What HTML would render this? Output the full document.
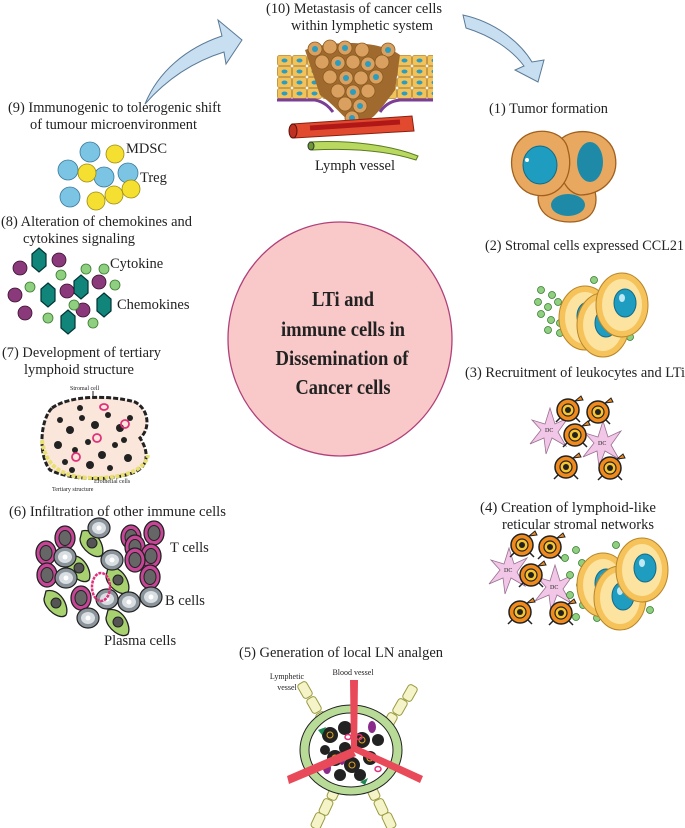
<!DOCTYPE html>
<html><head><meta charset="utf-8"><style>
html,body{margin:0;padding:0;background:#fff}
svg{display:block}
text{font-family:"Liberation Serif",serif;fill:#222}
</style></head><body>
<svg width="685" height="828" viewBox="0 0 685 828" xmlns="http://www.w3.org/2000/svg">
<defs>
<pattern id="grid" x="277" y="55" width="15" height="11" patternUnits="userSpaceOnUse">
<rect x="0.5" y="0.5" width="14" height="10" rx="2" fill="#f2c35a" stroke="#b8862a" stroke-width="0.8"/>
<ellipse cx="7.5" cy="5.5" rx="3" ry="2" fill="#2a9dc0"/>
</pattern>
<g id="orc"><circle r="11" fill="#f08a1c" stroke="#222" stroke-width="1.5"/><circle r="6" fill="#f7c530" stroke="#222" stroke-width="1.2"/><circle r="3" fill="#222"/><path d="M7 -9 l6 -5 l2 4 z" fill="#f08a1c" stroke="#222"/><path d="M-8 8 l-4 4 M8 8 l4 4" stroke="#222" stroke-width="1.5"/></g>
<g id="dc"><path d="M0 -22 L5 -6 L18 -12 L8 2 L16 16 L2 8 L-4 24 L-6 8 L-20 14 L-9 0 L-18 -10 L-5 -6 Z" fill="#f2c6e6" stroke="#9a7090" stroke-width="0.8"/><text x="-5" y="2" font-size="6" fill="#806080">DC</text></g>
<g id="strc"><ellipse rx="26" ry="32" fill="#f5c35a" stroke="#b8862a"/><ellipse rx="20" ry="26" fill="#fde3a0"/><ellipse cx="3" cy="-2" rx="11" ry="14" fill="#1e9dc0" stroke="#136a88"/><ellipse cx="0" cy="-7" rx="3" ry="4" fill="#bfe8f4"/></g>
<g id="tc"><ellipse rx="10" ry="12" fill="#c64596" stroke="#222" stroke-width="1.3"/><ellipse rx="6" ry="7.5" fill="#666" stroke="#222"/></g>
<g id="bc"><ellipse rx="11" ry="10" fill="#8a949a" stroke="#222" stroke-width="1.2"/><ellipse rx="7" ry="6" fill="#d8dee2"/><circle r="2.5" fill="#fff"/></g>
<g id="pc"><path d="M-10 -12 C4 -16 14 4 10 12 C4 18 -12 6 -12 -4 Z" fill="#a8d270" stroke="#222" stroke-width="1.3"/><circle cx="0" cy="0" r="5" fill="#555" stroke="#222"/></g>
<g id="hex"><polygon points="0,-12 7,-6 7,6 0,12 -7,6 -7,-6" fill="#11857a" stroke="#033" stroke-width="1.2"/></g>
<g id="chain"><rect x="-5" y="-8" width="10" height="16" rx="3" fill="#f4f4c8" stroke="#9a9a40" stroke-width="1"/></g>
</defs>

<!-- arrows -->
<path d="M145 104 C158 72 186 48 222 36 L218 20 L242 40 L226 64 L224 52 C192 62 166 80 145 104 Z" fill="#c8dff2" stroke="#5a7a96" stroke-width="1"/>
<path d="M463 15 C495 22 520 42 532 62 L544 60 L538 82 L515 70 L524 66 C512 50 492 36 466 28 Z" fill="#c8dff2" stroke="#5a7a96" stroke-width="1"/>

<!-- 10 -->
<text x="354" y="13" font-size="14.5" text-anchor="middle" textLength="176" lengthAdjust="spacingAndGlyphs">(10) Metastasis of cancer cells</text>
<text x="362" y="30" font-size="14.5" text-anchor="middle" textLength="142" lengthAdjust="spacingAndGlyphs">within lymphetic system</text>
<rect x="277" y="55" width="156" height="44" fill="url(#grid)"/>
<path d="M305 50 C330 40 380 40 400 55 L395 90 C380 110 370 125 355 125 C345 120 335 105 320 95 Z" fill="#a06a2e"/>
<g fill="#d9a060" stroke="#8a5a20" stroke-width="0.8">
<circle cx="315" cy="49" r="7"/><circle cx="330" cy="47" r="7"/><circle cx="345" cy="48" r="7"/><circle cx="362" cy="50" r="7"/><circle cx="388" cy="50" r="7"/><circle cx="322" cy="62" r="7"/><circle cx="338" cy="63" r="7"/><circle cx="353" cy="62" r="7"/><circle cx="368" cy="64" r="7"/><circle cx="382" cy="62" r="7"/><circle cx="330" cy="77" r="7"/><circle cx="346" cy="78" r="7"/><circle cx="361" cy="78" r="7"/><circle cx="376" cy="77" r="7"/><circle cx="338" cy="91" r="7"/><circle cx="353" cy="92" r="7"/><circle cx="368" cy="91" r="7"/><circle cx="345" cy="104" r="7"/><circle cx="360" cy="106" r="7"/><circle cx="352" cy="118" r="7"/></g>
<g fill="#2a9dc0"><circle cx="315" cy="49" r="3"/><circle cx="345" cy="48" r="3"/><circle cx="388" cy="50" r="3"/><circle cx="338" cy="63" r="3"/><circle cx="368" cy="64" r="3"/><circle cx="346" cy="78" r="3"/><circle cx="376" cy="77" r="3"/><circle cx="353" cy="92" r="3"/><circle cx="360" cy="106" r="3"/><circle cx="352" cy="118" r="3"/></g>
<path d="M277 100 L315 100 C325 102 330 108 333 112 M380 112 C384 106 390 101 400 100 L433 100" stroke="#7a3e96" stroke-width="3" fill="none"/>
<path d="M292 124 L412 116 L414 131 L294 138 Z" fill="#e24a30" stroke="#8a2010"/>
<ellipse cx="293" cy="131" rx="4" ry="7" fill="#c03020" stroke="#5a1008"/>
<path d="M310 128 L400 122" stroke="#b01818" stroke-width="5"/>
<path d="M310 142 C350 140 390 145 418 156 L416 160 C385 150 350 148 312 150 Z" fill="#b8d860" stroke="#5a7a20"/>
<ellipse cx="311" cy="146" rx="3" ry="4" fill="#6a9a30" stroke="#333"/>
<text x="355" y="170" font-size="14.5" text-anchor="middle" textLength="80" lengthAdjust="spacingAndGlyphs">Lymph vessel</text>

<!-- 9 -->
<text x="8" y="112" font-size="14.5" textLength="213" lengthAdjust="spacingAndGlyphs">(9) Immunogenic to tolerogenic shift</text>
<text x="30" y="129" font-size="14.5" textLength="167" lengthAdjust="spacingAndGlyphs">of tumour microenvironment</text>
<g stroke="#3a7a9a" stroke-width="0.8">
<circle cx="90" cy="152" r="10" fill="#7cc4e4"/><circle cx="68" cy="170" r="10" fill="#7cc4e4"/><circle cx="104" cy="177" r="10" fill="#7cc4e4"/><circle cx="128" cy="173" r="10" fill="#7cc4e4"/><circle cx="70" cy="197" r="10" fill="#7cc4e4"/>
</g>
<g stroke="#9a8a10" stroke-width="0.8">
<circle cx="115" cy="154" r="9" fill="#f5e032"/><circle cx="87" cy="173" r="9" fill="#f5e032"/><circle cx="114" cy="195" r="9" fill="#f5e032"/><circle cx="131" cy="189" r="9" fill="#f5e032"/><circle cx="96" cy="201" r="9" fill="#f5e032"/>
</g>
<text x="126" y="153" font-size="14.5">MDSC</text>
<text x="140" y="182" font-size="14.5">Treg</text>

<!-- 8 -->
<text x="1" y="226" font-size="14.5" textLength="191" lengthAdjust="spacingAndGlyphs">(8) Alteration of chemokines and</text>
<text x="23" y="243" font-size="14.5" textLength="112" lengthAdjust="spacingAndGlyphs">cytokines signaling</text>
<use href="#hex" x="39" y="260"/><use href="#hex" x="81" y="287"/><use href="#hex" x="48" y="295"/><use href="#hex" x="104" y="305"/><use href="#hex" x="68" y="322"/>
<g fill="#8a3a7a" stroke="#3a1030" stroke-width="0.8">
<circle cx="20" cy="268" r="7"/><circle cx="59" cy="260" r="7"/><circle cx="15" cy="295" r="7"/><circle cx="67" cy="291" r="7"/><circle cx="99" cy="282" r="7"/><circle cx="83" cy="310" r="7"/><circle cx="25" cy="313" r="7"/></g>
<g fill="#8ed080" stroke="#3a7a30" stroke-width="0.8">
<circle cx="86" cy="269" r="5"/><circle cx="104" cy="269" r="5"/><circle cx="61" cy="275" r="5"/><circle cx="30" cy="287" r="5"/><circle cx="115" cy="285" r="5"/><circle cx="74" cy="305" r="5"/><circle cx="48" cy="318" r="5"/><circle cx="93" cy="323" r="5"/></g>
<text x="110" y="268" font-size="14.5">Cytokine</text>
<text x="117" y="309" font-size="14.5">Chemokines</text>

<!-- 7 -->
<text x="2" y="357" font-size="14.5" textLength="159" lengthAdjust="spacingAndGlyphs">(7) Development of tertiary</text>
<text x="24" y="374" font-size="14.5" textLength="110" lengthAdjust="spacingAndGlyphs">lymphoid structure</text>
<text x="70" y="390" font-size="6">Stromal cell</text>
<line x1="93" y1="391" x2="93" y2="402" stroke="#222"/>
<path d="M52 408 C70 395 110 395 135 402 C150 410 150 430 140 438 C148 450 150 465 135 472 C110 482 70 480 50 470 C38 455 40 420 52 408 Z" fill="#fbe6dc" stroke="#222" stroke-width="3" stroke-dasharray="5 2"/>
<path d="M42 440 C45 465 60 478 95 478 C125 478 145 470 148 455" fill="none" stroke="#e8e070" stroke-width="4" stroke-dasharray="4 1.5"/>
<g fill="#222">
<circle cx="60" cy="420" r="3"/><circle cx="70" cy="430" r="4"/><circle cx="82" cy="418" r="3"/><circle cx="95" cy="425" r="4"/><circle cx="108" cy="415" r="3"/><circle cx="120" cy="428" r="4"/><circle cx="130" cy="418" r="3"/><circle cx="58" cy="445" r="4"/><circle cx="75" cy="450" r="3"/><circle cx="88" cy="442" r="3"/><circle cx="102" cy="455" r="4"/><circle cx="115" cy="445" r="3"/><circle cx="128" cy="458" r="4"/><circle cx="65" cy="462" r="3"/><circle cx="90" cy="465" r="4"/><circle cx="110" cy="468" r="3"/><circle cx="124" cy="440" r="3"/><circle cx="80" cy="408" r="3"/><circle cx="72" cy="470" r="3"/></g>
<g fill="none" stroke="#e0307a" stroke-width="1.8"><ellipse cx="104" cy="407" rx="4" ry="3"/><ellipse cx="125" cy="424" rx="4" ry="4"/><ellipse cx="97" cy="438" rx="4" ry="4"/><ellipse cx="76" cy="457" rx="4" ry="4"/></g>
<text x="94" y="483" font-size="6">Erothelial cells</text>
<text x="52" y="491" font-size="6">Tertiary structure</text>

<!-- center -->
<ellipse cx="340" cy="339" rx="112" ry="117" fill="#f9c8c8" stroke="#b0407a" stroke-width="1.3"/>
<g font-weight="bold" font-size="21" text-anchor="middle">
<text x="343" y="306" textLength="62" lengthAdjust="spacingAndGlyphs">LTi and</text>
<text x="343" y="336" textLength="124" lengthAdjust="spacingAndGlyphs">immune cells in</text>
<text x="342" y="365" textLength="133" lengthAdjust="spacingAndGlyphs">Dissemination of</text>
<text x="343" y="394" textLength="95" lengthAdjust="spacingAndGlyphs">Cancer cells</text>
</g>

<!-- 1 -->
<text x="489" y="113" font-size="14.5" textLength="119" lengthAdjust="spacingAndGlyphs">(1) Tumor formation</text>
<g stroke="#a0601e" stroke-width="1.3" fill="#e8a860">
<path d="M545 178 C530 200 540 222 570 222 C600 222 600 195 590 180 Z"/>
<path d="M560 140 C575 125 610 130 615 155 C620 180 600 195 580 195 C560 192 555 160 560 140 Z"/>
<path d="M520 140 C535 125 565 130 568 150 C575 175 560 200 535 195 C510 190 505 155 520 140 Z"/>
</g>
<ellipse cx="568" cy="205" rx="17" ry="11" fill="#1e8aa8"/>
<ellipse cx="590" cy="162" rx="13" ry="20" fill="#1e8aa8"/>
<ellipse cx="540" cy="165" rx="17" ry="19" fill="#1e9dc0" stroke="#136a88"/>
<circle cx="527" cy="160" r="2" fill="#fff"/>

<!-- 2 -->
<text x="485" y="250" font-size="14.5" textLength="199" lengthAdjust="spacingAndGlyphs">(2) Stromal cells expressed CCL21</text>
<g fill="#8ed080" stroke="#3a7a30" stroke-width="0.8">
<circle cx="541" cy="290" r="3.5"/><circle cx="552" cy="295" r="3.5"/><circle cx="538" cy="302" r="3.5"/><circle cx="548" cy="307" r="3.5"/><circle cx="558" cy="302" r="3.5"/><circle cx="541" cy="314" r="3.5"/><circle cx="551" cy="320" r="3.5"/><circle cx="560" cy="323" r="3.5"/><circle cx="548" cy="330" r="3.5"/><circle cx="560" cy="333" r="3.5"/><circle cx="594" cy="280" r="3.5"/><circle cx="575" cy="343" r="3.5"/><circle cx="630" cy="337" r="3.5"/></g>
<use href="#strc" x="585" y="318"/><use href="#strc" x="603" y="325"/><use href="#strc" x="622" y="305"/>

<!-- 3 -->
<text x="465" y="377" font-size="14.5" textLength="220" lengthAdjust="spacingAndGlyphs">(3) Recruitment of leukocytes and LTi</text>
<use href="#dc" x="550" y="430"/><use href="#dc" x="603" y="443"/>
<use href="#orc" x="568" y="410"/><use href="#orc" x="598" y="412"/><use href="#orc" x="575" y="435"/><use href="#orc" x="566" y="467"/><use href="#orc" x="610" y="468"/>

<!-- 4 -->
<text x="480" y="512" font-size="14.5" textLength="176" lengthAdjust="spacingAndGlyphs">(4) Creation of  lymphoid-like</text>
<text x="502" y="529" font-size="14.5" textLength="152" lengthAdjust="spacingAndGlyphs">reticular stromal networks</text>
<use href="#dc" x="509" y="570"/><use href="#dc" x="555" y="587"/>
<use href="#orc" x="522" y="545"/><use href="#orc" x="550" y="547"/><use href="#orc" x="531" y="575"/><use href="#orc" x="520" y="612"/><use href="#orc" x="561" y="613"/>
<g fill="#8ed080" stroke="#3a7a30" stroke-width="0.8">
<circle cx="565" cy="558" r="3.5"/><circle cx="576" cy="550" r="3.5"/><circle cx="582" cy="563" r="3.5"/><circle cx="570" cy="575" r="3.5"/><circle cx="580" cy="585" r="3.5"/><circle cx="570" cy="595" r="3.5"/><circle cx="583" cy="605" r="3.5"/><circle cx="576" cy="617" r="3.5"/><circle cx="597" cy="618" r="3.5"/><circle cx="616" cy="545" r="3.5"/><circle cx="650" cy="610" r="3.5"/></g>
<use href="#strc" x="603" y="585"/><use href="#strc" x="620" y="598"/><use href="#strc" x="642" y="570"/>

<!-- 6 -->
<text x="9" y="516" font-size="14.5" textLength="217" lengthAdjust="spacingAndGlyphs">(6)  Infiltration of other immune cells</text>
<use href="#pc" x="92" y="543"/><use href="#pc" x="79" y="568"/><use href="#pc" x="118" y="580"/><use href="#pc" x="56" y="603"/><use href="#pc" x="118" y="622"/>
<use href="#tc" x="65" y="538"/><use href="#tc" x="131" y="537"/><use href="#tc" x="154" y="533"/><use href="#tc" x="46" y="553"/><use href="#tc" x="135" y="547"/><use href="#tc" x="151" y="556"/><use href="#tc" x="135" y="560"/><use href="#tc" x="47" y="575"/><use href="#tc" x="150" y="577"/><use href="#tc" x="81" y="598"/>
<use href="#bc" x="99" y="528"/><use href="#bc" x="65" y="557"/><use href="#bc" x="112" y="560"/><use href="#bc" x="66" y="578"/><use href="#bc" x="151" y="597"/><use href="#bc" x="129" y="602"/><use href="#bc" x="107" y="599"/><use href="#bc" x="88" y="618"/>
<ellipse cx="101" cy="587" rx="9" ry="14" fill="none" stroke="#e0307a" stroke-width="2.5" stroke-dasharray="3 1"/>
<text x="170" y="552" font-size="14.5">T cells</text>
<text x="165" y="605" font-size="14.5">B cells</text>
<text x="104" y="645" font-size="14.5">Plasma cells</text>

<!-- 5 -->
<text x="239" y="657" font-size="14.5" textLength="204" lengthAdjust="spacingAndGlyphs">(5) Generation of local LN analgen</text>
<text x="287" y="679" font-size="8" text-anchor="middle">Lymphetic</text>
<text x="287" y="690" font-size="8" text-anchor="middle">vessel</text>
<text x="353" y="675" font-size="8" text-anchor="middle">Blood vessel</text>
<g>
<use href="#chain" transform="translate(305,690) rotate(-30)"/><use href="#chain" transform="translate(314,705) rotate(-30)"/><use href="#chain" transform="translate(323,720) rotate(-30)"/>
<use href="#chain" transform="translate(410,693) rotate(30)"/><use href="#chain" transform="translate(400,707) rotate(30)"/><use href="#chain" transform="translate(390,721) rotate(30)"/>
<use href="#chain" transform="translate(334,792) rotate(25)"/><use href="#chain" transform="translate(326,807) rotate(25)"/><use href="#chain" transform="translate(318,821) rotate(25)"/>
<use href="#chain" transform="translate(373,792) rotate(-25)"/><use href="#chain" transform="translate(381,807) rotate(-25)"/><use href="#chain" transform="translate(389,821) rotate(-25)"/>
</g>
<ellipse cx="351" cy="750" rx="51" ry="45" fill="#b8dc98" stroke="#222" stroke-width="1"/>
<ellipse cx="351" cy="750" rx="42" ry="37" fill="#fff" stroke="#222" stroke-width="1"/>
<g fill="#222"><circle cx="330" cy="735" r="8"/><circle cx="345" cy="728" r="7"/><circle cx="362" cy="740" r="8"/><circle cx="335" cy="758" r="8"/><circle cx="352" cy="765" r="8"/><circle cx="370" cy="758" r="7"/><circle cx="345" cy="748" r="6"/><circle cx="325" cy="750" r="5"/><circle cx="378" cy="740" r="6"/><circle cx="360" cy="775" r="6"/><circle cx="340" cy="775" r="6"/></g>
<g fill="none" stroke="#e0a020" stroke-width="1"><circle cx="330" cy="735" r="3"/><circle cx="362" cy="740" r="3"/><circle cx="352" cy="765" r="3"/><circle cx="335" cy="758" r="3"/><circle cx="370" cy="758" r="3"/></g>
<g fill="#8a2a8a"><ellipse cx="372" cy="727" rx="4" ry="6"/><ellipse cx="327" cy="768" rx="4" ry="6"/><ellipse cx="342" cy="760" rx="3" ry="5"/></g>
<g fill="#1a8a50"><path d="M318 730 l8 -3 l-4 8 z"/><path d="M360 782 l8 -4 l-3 7 z"/></g>
<g fill="none" stroke="#e0307a" stroke-width="1.5"><ellipse cx="348" cy="737" rx="3" ry="2.5"/><ellipse cx="359" cy="737" rx="3" ry="2.5"/><ellipse cx="378" cy="769" rx="3" ry="2.5"/></g>
<path d="M350 680 L358 680 L357 752 L351 752 Z" fill="#e84a5a"/>
<path d="M352 748 L287 776 L289 784 L356 756 Z" fill="#e84a5a"/>
<path d="M354 752 L420 783 L423 776 L357 746 Z" fill="#e84a5a"/>
</svg>
</body></html>
